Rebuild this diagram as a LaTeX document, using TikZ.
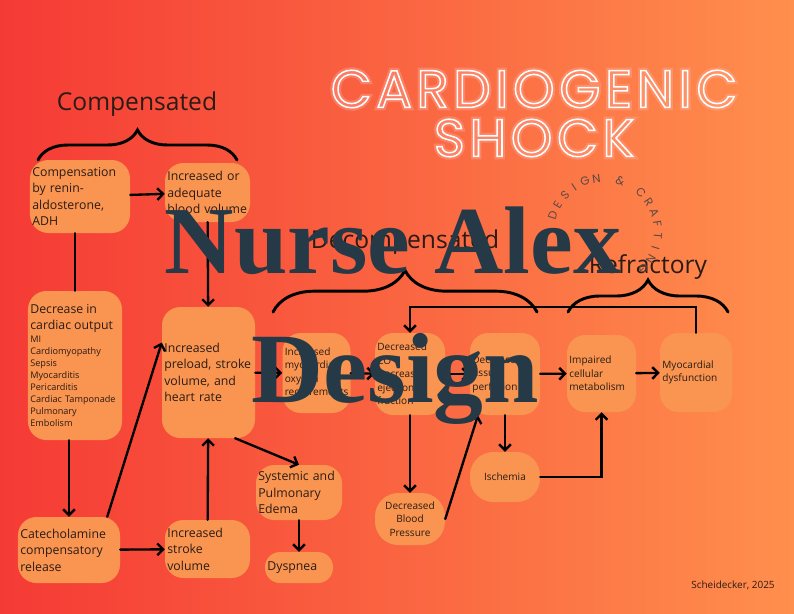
\documentclass[tikz,border=0pt]{standalone}
\usepackage{fontspec}
\setmainfont{Open Sans}
\newfontfamily\titlefont{Poppins}[LetterSpace=9]
\newfontfamily\markfont{Liberation Serif}
\newfontfamily\ringfont{Poppins}
\usetikzlibrary{positioning, arrows.meta, decorations.pathreplacing}

\definecolor{bgleft}{HTML}{F53A35}
\definecolor{bgright}{HTML}{FF8F4D}
\definecolor{boxfill}{HTML}{F99550}
\definecolor{ink}{HTML}{2B1B15}
\definecolor{markink}{HTML}{253947}
\definecolor{glowpink}{HTML}{FFB3A6}
\definecolor{ringgray}{HTML}{5A4A45}

% text drawn as an outline (pdf render mode 1)
\newcommand{\hollow}[2]{\special{pdf:literal direct 1 Tr #1 w}#2\special{pdf:literal direct 0 Tr}}

\begin{document}
\begin{tikzpicture}[
        x=0.03cm, y=-0.03cm,
        >={Straight Barb[length=5pt, width=10pt]},
        every node/.style={inner sep=0pt},
        box/.style={fill=boxfill, rounded corners=0.55cm, inner xsep=0.07cm, align=left, text=ink, font=\fontsize{10.5}{14}\selectfont},
        midbox/.style={box, font=\fontsize{8.6}{11.5}\selectfont},
        link/.style={line width=2pt, line cap=round},
        groupbrace/.style={decorate, line width=2.5pt, line cap=round},
        grouplabel/.style={text=ink, font=\fontsize{21}{25}\selectfont},
        ringletter/.style={text=ringgray, font=\ringfont\fontsize{10}{10}\selectfont},
        titletext/.style={font=\titlefont\fontsize{45}{50}\selectfont}
    ]
    \shade[left color=bgleft, right color=bgright] (0,0) rectangle (794,613);

    % compensated side
    \node[box, text width=2.86cm, minimum height=2.19cm] (comp) at (80,196.5) {Compensation\\by renin-\\aldosterone,\\ADH};
    \node[box, text width=2.41cm, minimum height=1.77cm] (incvol) at (207.5,192.5) {Increased or\\adequate\\blood volume};
    \node[box, text width=2.68cm, minimum height=4.47cm, font=\fontsize{7.8}{10.3}\selectfont] (deccard) at (75,365.5) {{\fontsize{10.5}{14}\selectfont Decrease in}\\[3.7pt]{\fontsize{10.5}{14}\selectfont cardiac output}\\[0.7pt]MI\\Cardiomyopathy\\Sepsis\\Myocarditis\\Pericarditis\\Cardiac Tamponade\\Pulmonary\\Embolism};
    \node[box, text width=2.65cm, minimum height=3.93cm] (preload) at (208.5,372.5) {Increased\\preload, stroke\\volume, and\\heart rate};
    \node[box, text width=2.92cm, minimum height=1.98cm] (catechol) at (69,550) {Catecholamine\\compensatory\\release};
    \node[box, text width=2.41cm, minimum height=1.74cm] (incstroke) at (207.5,549) {Increased\\stroke\\volume};
    \node[box, text width=2.44cm, minimum height=1.65cm] (edema) at (299,492.5) {Systemic and\\Pulmonary\\Edema};
    \node[box, text width=1.9cm, minimum height=0.93cm, rounded corners=0.45cm] (dyspnea) at (299,567.5) {Dyspnea};

    % decompensated and refractory
    \node[midbox, text width=1.9cm, minimum height=2.4cm] (myoox) at (316.5,373) {Increased\\myocardial\\oxygen\\requirements};
    \node[midbox, text width=1.96cm, minimum height=2.46cm] (decco) at (410,374) {Decreased\\CO\\Decreased\\ejection\\fraction};
    \node[midbox, text width=1.96cm, minimum height=2.46cm] (dectis) at (505,374) {Decreased\\tissue\\perfusion};
    \node[midbox, text width=1.93cm, minimum height=2.31cm] (impaired) at (601.5,373.5) {Impaired\\cellular\\metabolism};
    \node[midbox, text width=2.02cm, minimum height=2.37cm] (myodys) at (696,372.5) {Myocardial\\dysfunction};
    \node[midbox, align=center, text width=1.96cm, minimum height=1.56cm, rounded corners=0.7cm] (decbp) at (410,519) {Decreased\\Blood\\Pressure};
    \node[midbox, align=center, text width=1.96cm, minimum height=1.5cm, rounded corners=0.7cm] (ischemia) at (505,477) {Ischemia};

    % connectors
    \path[link, ->] (comp) edge (incvol)
        (incvol) edge (preload)
        (incstroke) edge (preload)
        (catechol) edge (incstroke)
        (edema) edge (dyspnea)
        (preload) edge (myoox)
        (myoox) edge (decco)
        (decco) edge (dectis)
        (dectis) edge (impaired)
        (impaired) edge (myodys)
        (decco) edge (decbp)
        (dectis) edge (ischemia);
    \draw[link] (deccard.north |- comp.south) -- (deccard.north);
    \draw[link, ->] (catechol.north |- deccard.south) -- (catechol.north);
    \draw[link, ->] ([xshift=-0.39cm]catechol.north east) -- ([yshift=0.9cm]preload.west);
    \draw[link, ->] ([xshift=0.8cm]preload.south) -- (edema.north);
    \draw[link, ->] (myodys.north) -- ++(0,-26) -| (decco.north);
    \draw[link, ->] (decbp.east) -- ([xshift=-0.81cm]dectis.south);
    \draw[link, ->] (ischemia.east) -| (impaired.south);

    % braces and stage labels
    \draw[groupbrace, decoration={brace, amplitude=0.9cm}] (38,160) -- (237,160);
    \draw[groupbrace, decoration={brace, amplitude=1.25cm}] (273,312) -- (537,312);
    \draw[groupbrace, decoration={brace, amplitude=0.96cm}] (568,312) -- (728,312);
    \node[grouplabel] (lblcomp) at (137,104) {Compensated};
    \node[grouplabel] (lbldecomp) at (405,242) {Decompensated};
    \node[grouplabel] (lblrefr) at (648,267) {Refractory};
    \node[text=ink, font=\fontsize{8.5}{10}\selectfont] (credit) at (733,585) {Scheidecker, 2025};

    % watermark
    \node[anchor=base, text=markink, font=\markfont\bfseries\fontsize{82}{82}\selectfont] (markone) at (393,273) {Nurse Alex};
    \node[anchor=base, text=markink, font=\markfont\bfseries\fontsize{85}{85}\selectfont] (marktwo) at (395,402) {Design};
    \foreach \ch [count=\i from 0] in {D,E,S,I,G,N,{},{\&},{},C,R,A,F,T,I,N,G}
        \node[ringletter, rotate=72-12.8*\i] (ring\i) at ({604+54*cos(162-12.8*\i)}, {232-54*sin(162-12.8*\i)}) {\ch};

    % title
    \node[titletext, text=glowpink, opacity=0.35] (glowone) at (534,89) {\hollow{5}{CARDIOGENIC}};
    \node[titletext, text=glowpink, opacity=0.35] (glowtwo) at (534,138) {\hollow{5}{SHOCK}};
    \node[titletext, text=white] (titleone) at (534,89) {\hollow{1.3}{CARDIOGENIC}};
    \node[titletext, text=white] (titletwo) at (534,138) {\hollow{1.3}{SHOCK}};
\end{tikzpicture}
\end{document}
